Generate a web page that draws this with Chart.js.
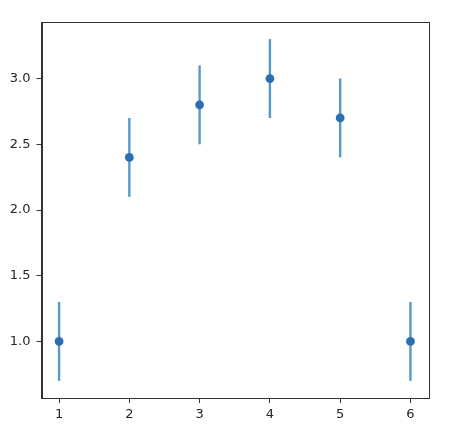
<!DOCTYPE html>
<html><head><meta charset="utf-8">
<script src="https://cdn.jsdelivr.net/npm/chart.js@4/dist/chart.umd.min.js"></script>
<style>html,body{margin:0;padding:0;background:#fff}#wrap{width:474px;height:444px}</style>
</head><body><div id="wrap"><canvas id="c" width="474" height="444"></canvas></div>
<script>
const xValues = [1, 2, 3, 4, 5, 6];
const yValues = [1.0, 2.4, 2.8, 3.0, 2.7, 1.0];
const yErrors = [0.3, 0.3, 0.3, 0.3, 0.3, 0.3];
const xTicks = [1, 2, 3, 4, 5, 6];
const yTicks = [1.0, 1.5, 2.0, 2.5, 3.0];

const errorBars = {
  id: 'errorBars',
  beforeDatasetsDraw(chart) {
    const ctx = chart.ctx, xs = chart.scales.x, ys = chart.scales.y;
    ctx.save();
    ctx.strokeStyle = 'rgba(31,119,180,0.75)';
    ctx.lineWidth = 2.4;
    xValues.forEach((xv, i) => {
      const px = xs.getPixelForValue(xv);
      ctx.beginPath();
      ctx.moveTo(px, ys.getPixelForValue(yValues[i] - yErrors[i]));
      ctx.lineTo(px, ys.getPixelForValue(yValues[i] + yErrors[i]));
      ctx.stroke();
    });
    ctx.restore();
  },
  afterDraw(chart) {
    const a = chart.chartArea, ctx = chart.ctx;
    ctx.save();
    ctx.strokeStyle = '#333';
    ctx.lineWidth = 1;
    ctx.strokeRect(Math.round(a.left) + 0.5, Math.round(a.top) + 0.5, Math.round(a.right - a.left), Math.round(a.bottom - a.top));
    ctx.restore();
  }
};

const font = { family: 'DejaVu Sans', size: 13 };
new Chart(document.getElementById('c'), {
  type: 'scatter',
  data: { datasets: [{
    data: xValues.map((x, i) => ({ x, y: yValues[i] })),
    backgroundColor: '#2a70b0', borderColor: '#2a70b0',
    pointRadius: 4.4, pointHoverRadius: 4.4, borderWidth: 0
  }]},
  options: {
    responsive: false, animation: false,
    layout: { padding: { left: 0, top: 22, right: 46, bottom: 0 } },
    plugins: { legend: { display: false }, tooltip: { enabled: false } },
    scales: {
      x: {
        type: 'linear', min: 0.75, max: 6.25,
        afterBuildTicks: s => { s.ticks = xTicks.map(v => ({ value: v })); },
        afterFit: s => { s.height = 46; },
        grid: { drawOnChartArea: false, tickLength: 5, color: '#333', tickColor: '#333' },
        border: { color: '#333' },
        ticks: { font, color: '#262626', padding: 4, maxRotation: 0, callback: v => String(v) }
      },
      y: {
        type: 'linear', min: 0.57, max: 3.43,
        afterBuildTicks: s => { s.ticks = yTicks.map(v => ({ value: v })); },
        afterFit: s => { s.width = 41.5; },
        grid: { drawOnChartArea: false, tickLength: 5, color: '#333', tickColor: '#333' },
        border: { color: '#333' },
        ticks: { font, color: '#262626', padding: 6, callback: v => v.toFixed(1) }
      }
    }
  },
  plugins: [errorBars]
});
</script></body></html>
